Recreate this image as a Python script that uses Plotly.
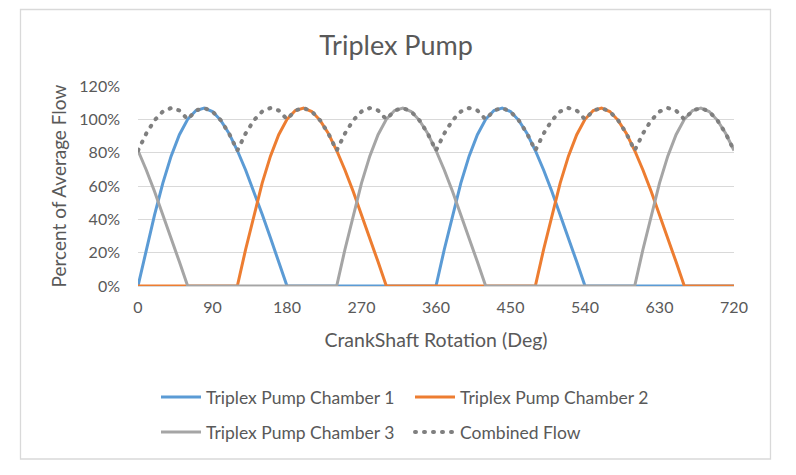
import plotly.graph_objects as go

# Crank angle (deg), 10 degree steps
crank_deg = [0, 10, 20, 30, 40, 50, 60, 70, 80, 90, 100, 110, 120, 130, 140, 150, 160, 170,
             180, 190, 200, 210, 220, 230, 240, 250, 260, 270, 280, 290, 300, 310, 320, 330, 340, 350,
             360, 370, 380, 390, 400, 410, 420, 430, 440, 450, 460, 470, 480, 490, 500, 510, 520, 530,
             540, 550, 560, 570, 580, 590, 600, 610, 620, 630, 640, 650, 660, 670, 680, 690, 700, 710, 720]

# Percent of average flow
chamber_1 = [0, 21.9, 42.7, 61.7, 77.9, 90.8, 100.0, 105.3, 106.8, 104.7, 99.4, 91.5, 81.3, 69.6, 56.7, 43.0, 28.9, 14.5,
             0, 0, 0, 0, 0, 0, 0, 0, 0, 0, 0, 0, 0, 0, 0, 0, 0, 0,
             0, 21.9, 42.7, 61.7, 77.9, 90.8, 100.0, 105.3, 106.8, 104.7, 99.4, 91.5, 81.3, 69.6, 56.7, 43.0, 28.9, 14.5,
             0, 0, 0, 0, 0, 0, 0, 0, 0, 0, 0, 0, 0, 0, 0, 0, 0, 0, 0]

chamber_2 = [0, 0, 0, 0, 0, 0, 0, 0, 0, 0, 0, 0,
             0, 21.9, 42.7, 61.7, 77.9, 90.8, 100.0, 105.3, 106.8, 104.7, 99.4, 91.5, 81.3, 69.6, 56.7, 43.0, 28.9, 14.5, 0,
             0, 0, 0, 0, 0, 0, 0, 0, 0, 0, 0, 0, 0, 0, 0, 0, 0,
             0, 21.9, 42.7, 61.7, 77.9, 90.8, 100.0, 105.3, 106.8, 104.7, 99.4, 91.5, 81.3, 69.6, 56.7, 43.0, 28.9, 14.5, 0,
             0, 0, 0, 0, 0, 0]

chamber_3 = [81.3, 69.6, 56.7, 43.0, 28.9, 14.5, 0,
             0, 0, 0, 0, 0, 0, 0, 0, 0, 0, 0, 0, 0, 0, 0, 0, 0,
             0, 21.9, 42.7, 61.7, 77.9, 90.8, 100.0, 105.3, 106.8, 104.7, 99.4, 91.5, 81.3, 69.6, 56.7, 43.0, 28.9, 14.5, 0,
             0, 0, 0, 0, 0, 0, 0, 0, 0, 0, 0, 0, 0, 0, 0, 0, 0,
             0, 21.9, 42.7, 61.7, 77.9, 90.8, 100.0, 105.3, 106.8, 104.7, 99.4, 91.5, 81.3]

combined = [81.3, 91.5, 99.4, 104.7, 106.8, 105.3, 100.0, 105.3, 106.8, 104.7, 99.4, 91.5,
            81.3, 91.5, 99.4, 104.7, 106.8, 105.3, 100.0, 105.3, 106.8, 104.7, 99.4, 91.5,
            81.3, 91.5, 99.4, 104.7, 106.8, 105.3, 100.0, 105.3, 106.8, 104.7, 99.4, 91.5,
            81.3, 91.5, 99.4, 104.7, 106.8, 105.3, 100.0, 105.3, 106.8, 104.7, 99.4, 91.5,
            81.3, 91.5, 99.4, 104.7, 106.8, 105.3, 100.0, 105.3, 106.8, 104.7, 99.4, 91.5,
            81.3, 91.5, 99.4, 104.7, 106.8, 105.3, 100.0, 105.3, 106.8, 104.7, 99.4, 91.5,
            81.3]

x_ticks = [0, 90, 180, 270, 360, 450, 540, 630, 720]
y_ticks = [0, 20, 40, 60, 80, 100, 120]
y_tick_labels = ["0%", "20%", "40%", "60%", "80%", "100%", "120%"]

FONT = "Lato"
TXT = "#595959"
GRID = "#D9D9D9"

fig = go.Figure()
fig.add_trace(go.Scatter(x=crank_deg, y=chamber_1, mode="lines", name="Triplex Pump Chamber 1",
                         line=dict(color="#5B9BD5", width=3), legend="legend"))
fig.add_trace(go.Scatter(x=crank_deg, y=chamber_2, mode="lines", name="Triplex Pump Chamber 2",
                         line=dict(color="#ED7D31", width=3), legend="legend"))
fig.add_trace(go.Scatter(x=crank_deg, y=chamber_3, mode="lines", name="Triplex Pump Chamber 3",
                         line=dict(color="#A5A5A5", width=3), legend="legend2"))
fig.add_trace(go.Scatter(x=crank_deg, y=combined, mode="lines", name="Combined Flow",
                         line=dict(color="#7F7F7F", width=4, dash="1px,8px"), legend="legend2"))

L, R, T, B = 138, 62, 86, 189
W, H = 796, 475
pw, ph = W - L - R, H - T - B


def px_x(p):
    return (p - L) / pw


def px_y(p):
    return (H - B - p) / ph


fig.update_layout(
    width=W, height=H,
    margin=dict(l=L, r=R, t=T, b=B),
    paper_bgcolor="white", plot_bgcolor="white",
    font=dict(family=FONT, color=TXT, size=16),
    title=dict(text="Triplex Pump", font=dict(size=27, color=TXT, family=FONT),
               x=396 / W, xanchor="center", xref="container",
               y=1 - 46 / H, yanchor="middle", yref="container"),
    xaxis=dict(range=[0, 720], tickvals=x_ticks, showgrid=False, zeroline=False, showline=False,
               ticks="", tickfont=dict(size=16, color=TXT), ticklabelstandoff=10,
               title=dict(text="CrankShaft Rotation (Deg)", font=dict(size=19.5, color=TXT), standoff=18)),
    yaxis=dict(range=[0, 120], tickvals=y_ticks, ticktext=y_tick_labels, showgrid=True, gridcolor=GRID,
               gridwidth=1, zeroline=True, zerolinecolor=GRID, zerolinewidth=1, showline=False, ticks="",
               tickfont=dict(size=16, color=TXT), ticklabelstandoff=17,
               title=dict(text="Percent of Average Flow", font=dict(size=19, color=TXT), standoff=7)),
    legend=dict(orientation="h", x=px_x(156), xanchor="left", y=px_y(397), yanchor="middle",
                font=dict(size=17.5, color=TXT), bgcolor="rgba(0,0,0,0)", entrywidth=199, itemwidth=40),
    legend2=dict(orientation="h", x=px_x(156), xanchor="left", y=px_y(432), yanchor="middle",
                 font=dict(size=17.5, color=TXT), bgcolor="rgba(0,0,0,0)", entrywidth=199, itemwidth=40),
    shapes=[dict(type="rect", xref="paper", yref="paper",
                 x0=px_x(20.5), x1=px_x(770.5), y0=px_y(459), y1=px_y(9.5),
                 line=dict(color="#D9D9D9", width=1.3), fillcolor="rgba(0,0,0,0)", layer="below")],
)

post = """
var gd = document.getElementById('{plot_id}');
function roundDots(){
  gd.querySelectorAll('path').forEach(function(p){
    var d = p.style.strokeDasharray;
    if (d && d !== 'none' && d !== '') { p.style.strokeLinecap = 'round'; }
  });
}
roundDots();
if (gd.on) { gd.on('plotly_afterplot', roundDots); }
"""

fig.write_html("out.html", config={"displayModeBar": False}, post_script=post)
